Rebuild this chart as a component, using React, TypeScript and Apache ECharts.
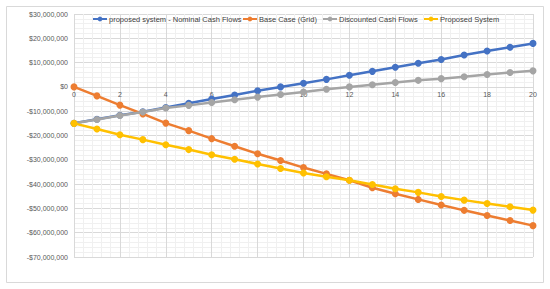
import React, { useEffect, useRef } from "react";
import * as echarts from "echarts";

// values in millions of dollars
const years = [0, 1, 2, 3, 4, 5, 6, 7, 8, 9, 10, 11, 12, 13, 14, 15, 16, 17, 18, 19, 20];
const nominalCashFlows = [-15, -13.3, -11.7, -10.2, -8.5, -6.7, -5, -3.3, -1.6, 0, 1.5, 3.1, 4.8, 6.4, 8.1, 9.7, 11.3, 13.1, 14.8, 16.3, 17.9];
const baseCaseGrid = [0, -3.7, -7.5, -11.1, -14.9, -18, -21.3, -24.4, -27.5, -30.3, -33.2, -35.8, -38.4, -41.5, -44, -46.3, -48.6, -50.8, -52.9, -55, -57.1];
const discountedCashFlows = [-15, -13.4, -11.8, -10.3, -8.7, -7.6, -6.4, -5.3, -4.2, -3.1, -2.1, -1.0, 0, 0.9, 1.8, 2.7, 3.4, 4.2, 5.1, 5.9, 6.6];
const proposedSystem = [-15, -17.3, -19.7, -21.7, -23.8, -25.8, -27.9, -29.8, -31.7, -33.6, -35.4, -37, -38.4, -40.2, -41.9, -43.4, -45.1, -46.6, -48, -49.3, -50.7];

const seriesNames = [
  "proposed system - Nominal Cash Flows",
  "Base Case (Grid)",
  "Discounted Cash Flows",
  "Proposed System",
];
const seriesColors = ["#4472C4", "#ED7D31", "#A5A5A5", "#FFC000"];
const seriesValues = [nominalCashFlows, baseCaseGrid, discountedCashFlows, proposedSystem];
const legendLefts = [92, 242, 322, 423];

const Y_MIN = -70;
const Y_MAX = 30;
const GRID_TOP = 14;
const GRID_BOTTOM = 32;
const CHART_H = 289;

const fmtMoney = (v: number) => {
  const d = Math.round(v * 1e6);
  return (d < 0 ? "-" : "") + "$" + Math.abs(d).toLocaleString("en-US");
};

export default function App() {
  const ref = useRef<HTMLDivElement>(null);
  useEffect(() => {
    if (!ref.current) return;
    const chart = echarts.init(ref.current, undefined, { renderer: "svg" });
    const font = "'Liberation Sans', 'Open Sans', sans-serif";
    const gridH = CHART_H - GRID_TOP - GRID_BOTTOM;
    const zeroOffset = -(gridH * (0 - Y_MIN)) / (Y_MAX - Y_MIN);
    chart.setOption({
      animation: false,
      backgroundColor: "#ffffff",
      textStyle: { fontFamily: font },
      graphic: [
        {
          type: "rect",
          shape: { x: 6.5, y: 6.5, width: 537, height: 276 },
          style: { fill: "none", stroke: "#d9d9d9", lineWidth: 1 },
          silent: true,
        },
      ],
      legend: seriesNames.map((name, i) => ({
        top: 15,
        left: legendLefts[i],
        padding: 0,
        itemWidth: 14,
        itemHeight: 6,
        textStyle: { fontSize: 7.5, color: "#404040", fontFamily: font, padding: [0, 0, 0, -3] },
        data: [name],
      })),
      grid: { left: 74, right: 17, top: GRID_TOP, bottom: GRID_BOTTOM, containLabel: false },
      xAxis: {
        type: "value",
        min: 0,
        max: 20,
        interval: 2,
        offset: zeroOffset,
        axisLine: { show: true, onZero: false, lineStyle: { color: "#d9d9d9", width: 1 } },
        axisTick: { show: false },
        axisLabel: { fontSize: 7, color: "#595959", margin: 4, fontFamily: font },
        splitLine: { show: true, lineStyle: { color: "#d9d9d9", width: 1 } },
        minorTick: { show: false, splitNumber: 5 },
        minorSplitLine: { show: true, lineStyle: { color: "#f0f0f0", width: 1 } },
      },
      yAxis: {
        type: "value",
        min: Y_MIN,
        max: Y_MAX,
        interval: 10,
        axisLine: { show: false, onZero: false },
        axisTick: { show: false },
        axisLabel: { fontSize: 7, color: "#595959", margin: 6, formatter: fmtMoney, fontFamily: font },
        splitLine: { show: true, lineStyle: { color: "#d9d9d9", width: 1 } },
        minorTick: { show: false, splitNumber: 5 },
        minorSplitLine: { show: true, lineStyle: { color: "#f0f0f0", width: 1 } },
      },
      series: seriesNames.map((name, i) => ({
        name,
        type: "line",
        data: years.map((y, k) => [y, seriesValues[i][k]]),
        symbol: "circle",
        symbolSize: 7,
        color: seriesColors[i],
        lineStyle: { width: 2.5, color: seriesColors[i] },
        itemStyle: { color: seriesColors[i] },
        z: 2 + i,
      })),
    });
    return () => chart.dispose();
  }, []);
  return (
    <div
      ref={ref}
      style={{ position: "fixed", left: 0, top: 0, width: 550, height: 289 }}
    />
  );
}
